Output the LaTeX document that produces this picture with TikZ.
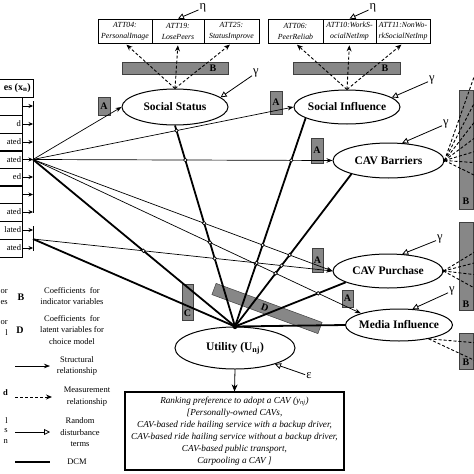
\documentclass[tikz,border=0pt]{standalone}
\usepackage{fontspec}
\setmainfont{Liberation Serif}
\usetikzlibrary{shapes.geometric,arrows.meta,intersections}
\definecolor{gbar}{RGB}{135,135,135}
\newcommand\hopsof[2]{\edef\hopargs{#1 and #2}\expandafter\hopsofi\expandafter{\hopargs}}
\newcommand\hopsofi[1]{%
  \path[name intersections={of=#1,total=\hoptot}] \pgfextra{\global\let\myhoptot\hoptot};
  \ifnum\myhoptot>0 \foreach \m in {1,...,\myhoptot}{\node[hop] at (intersection-\m) {};}\fi}
\begin{document}
\begin{tikzpicture}[x=1pt,y=-1pt,
  lat/.style={ellipse,draw,line width=1pt,inner sep=0pt,font=\fontsize{11.5}{13}\selectfont\bfseries},
  ind/.style={rectangle,draw,line width=0.7pt,inner sep=0pt,align=center,font=\fontsize{7.8}{11}\selectfont\itshape,minimum height=24pt},
  gbox/.style={fill=gbar,draw=black!75,line width=0.5pt,inner sep=0pt,font=\fontsize{10}{12}\selectfont\bfseries},
  glab/.style={font=\fontsize{10}{12}\selectfont\bfseries,inner sep=0pt},
  struct/.style={line width=0.7pt,-{Stealth[length=6pt,width=4.5pt]}},
  meas/.style={line width=0.9pt,dash pattern=on 3pt off 2pt,-{Stealth[length=6pt,width=5pt]}},
  fan/.style={line width=0.9pt,dash pattern=on 3pt off 2pt},
  dist/.style={line width=0.8pt,-{Triangle[open,length=6pt,width=6pt]}},
  dcm/.style={line width=1.8pt},
  hop/.style={circle,draw,fill=white,line width=0.7pt,inner sep=0pt,minimum size=3.6pt},
  greek/.style={font=\fontsize{12.5}{14}\selectfont,inner sep=1pt},
  leg/.style={font=\fontsize{8.5}{11.5}\selectfont,align=center,inner sep=0pt},
  rowbox/.style={draw,line width=0.7pt,minimum height=17.8pt,text width=25pt,align=right,inner sep=1pt,font=\fontsize{8.5}{10}\selectfont},
]
\useasboundingbox (0,0) rectangle (474,474);
\clip (0,0) rectangle (474,474);

% ---------- gray coefficient boxes (behind) ----------
\node[gbox,minimum width=106pt,minimum height=12pt] (bar1) at (175,68) {};
\node[glab] (bar1B) at (213,68) {B};
\node[gbox,minimum width=107pt,minimum height=12pt] (bar2) at (346.5,68) {};
\node[glab] (bar2B) at (385,68) {B};
\node[gbox,minimum width=12pt,minimum height=18pt] (a1) at (104,106) {A};
\node[gbox,minimum width=12pt,minimum height=23pt] (a2) at (276,102.5) {A};
\node[gbox,minimum width=12pt,minimum height=25pt] (a3) at (317,150.5) {A};
\node[gbox,minimum width=11pt,minimum height=24pt] (a4) at (317.5,260) {A};
\node[gbox,minimum width=11pt,minimum height=17pt] (a5) at (347.5,298.5) {A};
\node[gbox,minimum width=11pt,minimum height=36pt] (cC) at (187.5,302) {};
\node[glab] (cClab) at (187.5,313) {C};
\draw[fill=gbar,draw=black!75,line width=0.5pt] (216.1,283.4) -- (322.1,322.4) -- (317.9,333.6) -- (211.9,294.6) -- cycle;
\node[glab,rotate=-20.2] (dD) at (265,308) {D};
\node[gbox,minimum width=14pt,minimum height=119pt] (rb1) at (466,149.5) {};
\node[glab] (rb1B) at (466,201) {B};
\node[gbox,minimum width=14pt,minimum height=88pt] (rb2) at (466,266) {};
\node[glab] (rb2B) at (466,304) {B};
\node[gbox,minimum width=14pt,minimum height=36pt] (rb3) at (466,351) {};
\node[glab] (rb3B) at (466,362) {B};

% ---------- latent variables ----------
\node[lat,minimum width=106pt,minimum height=36pt] (ss) at (175,107) {\makebox[0pt]{Social Status}};
\node[lat,minimum width=106pt,minimum height=34pt] (si) at (347,107) {\makebox[0pt]{Social Influence}};
\node[lat,minimum width=111pt,minimum height=35pt] (cb) at (388.5,160.5) {\makebox[0pt]{CAV Barriers}};
\node[lat,minimum width=110pt,minimum height=34pt] (cp) at (388,271) {\makebox[0pt]{CAV Purchase}};
\node[lat,minimum width=107pt,minimum height=32pt] (mi) at (399,325) {\makebox[0pt]{Media Influence}};
\node[lat,minimum width=120pt,minimum height=42pt] (ut) at (235,348) {\makebox[0pt]{Utility (U\textsubscript{nj})}};

% ---------- indicators ----------
\node[ind,minimum width=54pt] (c1) at (125,31) {ATT04:\\PersonalImage};
\node[ind,minimum width=52pt] (c2) at (178,31) {ATT19:\\LosePeers};
\node[ind,minimum width=55pt] (c3) at (231.5,31) {ATT25:\\StatusImprove};
\node[ind,minimum width=55pt] (c4) at (295.5,31) {ATT06:\\PeerReliab};
\node[ind,minimum width=53pt] (c5) at (349.5,31) {ATT10:WorkS-\\ocialNetImp};
\node[ind,minimum width=54pt] (c6) at (403,31) {ATT11:NonWo-\\rkSocialNetImp};

\draw[meas,shorten >=2pt] (ss.north) -- (c1.south);
\draw[meas,shorten >=2pt] (ss.north) -- (c2.south);
\draw[meas,shorten >=2pt] (ss.north) -- (c3.south);
\draw[meas,shorten >=2pt] (si.north) -- (c4.south);
\draw[meas,shorten >=2pt] (si.north) -- (c5.south);
\draw[meas,shorten >=2pt] (si.north) -- (c6.south);

% ---------- greek disturbance labels ----------
\node[greek] (eta1) at (203,8) {η};
\node[greek] (eta2) at (373,8) {η};
\draw[dist] (eta1) -- (c2.north);
\draw[dist] (eta2) -- (c5.north);
\node[greek] (g1) at (256,73) {γ};
\node[greek] (g2) at (432,80) {γ};
\node[greek] (g3) at (446,124) {γ};
\node[greek] (g4) at (440,239) {γ};
\node[greek] (g5) at (452,291) {γ};
\draw[dist] (g1) -- (ss.12);
\draw[dist] (g2) -- (si.12);
\draw[dist] (g3) -- (cb.52);
\draw[dist] (g4) -- (cp.50);
\draw[dist] (g5) -- (mi.50);
\node[greek] (eps) at (309,376) {ε};
\draw[dist] (eps) -- (ut.-22);

% ---------- left explanatory variables ----------
\draw[line width=0.8pt] (-5,79) rectangle (33,97);
\node[anchor=east,inner sep=0pt,font=\fontsize{10}{12}\selectfont\bfseries] (hdr) at (31,88) {es (x\textsubscript{n})};
\foreach \yc/\tx [count=\i] in {106/{},124/d,142/ated,159.5/ated,177/ed,194.5/{},212/ated,230/lated,248/ated}{
  \node[rowbox] (r\i) at (8.5,\yc) {\tx};
  \coordinate (bus\i) at (33,\yc);
  \draw[struct,-{Stealth[length=4.5pt,width=4pt]}] (r\i.east) -- (bus\i);
}
\draw[line width=1pt] (33,101) -- (33,213);
\draw[line width=1pt] (33,226) -- (33,251);
\coordinate (P1) at (33,159.5);
\coordinate (P2) at (33,239);

% ---------- structural relations ----------
\draw[struct,name path=t1] (P1) -- (ss.west);
\draw[struct,name path=t2] (P1) -- (si.west);
\draw[struct,name path=t3] (P1) -- (cb.west);
\draw[struct,name path=t4] (P1) -- (cp.west);
\draw[struct,name path=t5] (P1) -- (mi.163);
\draw[struct,name path=t6] (P2) -- (cp.west);

% ---------- DCM ----------
\draw[dcm,name path=k1] (P1) -- (ut.north);
\draw[dcm,name path=k2] (P2) -- (ut.north);
\draw[dcm,name path=k3] (ss.south) -- (ut.north);
\draw[dcm,name path=k4] (si.195) -- (ut.north);
\draw[dcm,name path=k5] (cb.200) -- (ut.north);
\draw[dcm,name path=k6] (cp.195) -- (ut.north);
\draw[dcm,name path=k7] (mi.west) -- (ut.north);
\fill (ut.north) circle (2.6pt);

% ---------- line hops at crossings ----------
\foreach \ta in {t1,t2,t3,t4,t5}{\foreach \kb in {k2,k3,k4,k5,k6,k7}{\hopsof{\ta}{\kb}}}
\foreach \kb in {k1,k3,k4,k5,k6,k7}{\hopsof{t6}{\kb}}

% ---------- right fans ----------
\fill (cb.east) circle (1.6pt);
\fill (cp.east) circle (1.6pt);
\foreach \yy [count=\j] in {60,92,115,134,150,163,178}{
  \coordinate (fb\j) at (480,\yy);
  \draw[fan] (cb.east) -- (fb\j);
}
\foreach \yy [count=\j] in {250,262,275,290}{
  \coordinate (fp\j) at (478,\yy);
  \draw[fan] (cp.east) -- (fp\j);
}
\foreach \yy [count=\j] in {343,362}{
  \coordinate (fm\j) at (478,\yy);
  \draw[fan] (mi.-25) -- (fm\j);
}

% ---------- outcome ----------
\node[draw,line width=1.2pt,minimum width=219pt,minimum height=78pt,align=center,inner sep=0pt,font=\fontsize{9.2}{12}\selectfont\itshape] (out) at (234.5,431)
 {Ranking preference to adopt a CAV (y\textsubscript{nj})\\
  {[}Personally-owned CAVs,\\
  CAV-based ride hailing service with a backup driver,\\
  CAV-based ride hailing service without a backup driver,\\
  CAV-based public transport,\\
  Carpooling a CAV {]}};
\draw[line width=0.8pt,-{Stealth[length=7pt,width=6pt]}] (ut.south) -- (out.north);

% ---------- legend ----------
\node[leg,anchor=east] (lo1) at (8,292) {or};
\node[leg,anchor=east] (lo2) at (8,303) {es};
\node[leg,anchor=east] (lo3) at (8,323) {or};
\node[leg,anchor=east] (lo4) at (8,333) {l};
\node[leg,anchor=east,font=\fontsize{8.5}{11.5}\selectfont\bfseries] (lo5) at (8,393) {d};
\node[leg,anchor=east] (lo6) at (8,421) {l};
\node[leg,anchor=east] (lo7) at (8,431) {s};
\node[leg,anchor=east] (lo8) at (8,441) {n};
\node[glab] (lgB) at (21,297) {B};
\node[leg] (lgBt) at (72,296) {Coefficients\ \ for\\indicator variables};
\node[glab] (lgD) at (20,330) {D};
\node[leg] (lgDt) at (72,330) {Coefficients\ \ for\\latent variables for\\choice model};
\coordinate (ls1) at (15,366); \coordinate (ls2) at (50,366);
\draw[struct] (ls1) -- (ls2);
\node[leg] (lst) at (77,366) {Structural\\relationship};
\coordinate (lm1) at (15,397); \coordinate (lm2) at (52,397);
\draw[meas] (lm1) -- (lm2);
\node[leg] (lmt) at (87,396.5) {Measurement\\relationship};
\coordinate (lr1) at (15,432); \coordinate (lr2) at (50,432);
\draw[dist] (lr1) -- (lr2);
\node[leg] (lrt) at (80,432.5) {Random\\disturbance\\terms};
\coordinate (ld1) at (15,462); \coordinate (ld2) at (50,462);
\draw[dcm] (ld1) -- (ld2);
\node[leg] (ldt) at (77,462) {DCM};
\end{tikzpicture}
\end{document}
